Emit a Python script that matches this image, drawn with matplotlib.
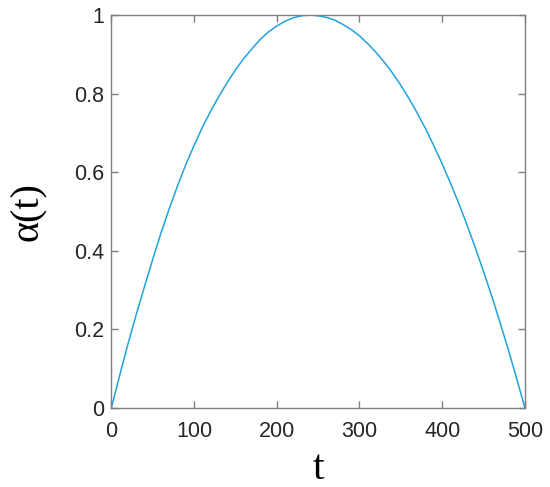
import matplotlib
matplotlib.use("Agg")
import matplotlib.pyplot as plt

# values
t_vals = [0, 10, 20, 30, 40, 50, 60, 70, 80, 90, 100, 110, 120, 130, 140,
          150, 160, 170, 180, 190, 200, 210, 220, 230, 240, 250, 260, 270,
          280, 290, 300, 310, 320, 330, 340, 350, 360, 370, 380, 390, 400,
          410, 420, 430, 440, 450, 460, 470, 480, 490, 500]
alpha_vals = [0.0, 0.082, 0.162, 0.237, 0.308, 0.378, 0.445, 0.507, 0.565,
              0.619, 0.668, 0.714, 0.755, 0.793, 0.828, 0.860, 0.889, 0.914,
              0.938, 0.957, 0.972, 0.984, 0.993, 0.998, 1.0, 0.998, 0.994,
              0.987, 0.976, 0.963, 0.947, 0.927, 0.905, 0.880, 0.852, 0.821,
              0.787, 0.750, 0.710, 0.667, 0.621, 0.572, 0.521, 0.466, 0.408,
              0.347, 0.284, 0.217, 0.148, 0.075, 0.0]
x_ticks = [0, 100, 200, 300, 400, 500]
y_ticks = [0, 0.2, 0.4, 0.6, 0.8, 1]
y_ticklabels = ["0", "0.2", "0.4", "0.6", "0.8", "1"]

plt.rcParams["font.family"] = ["Liberation Sans", "DejaVu Sans"]

fig = plt.figure(figsize=(5.5, 4.87), dpi=100)
ax = fig.add_axes([0.2024, 0.1622, 0.752, 0.807])
ax.plot(t_vals, alpha_vals, color="#1fa3dc", linewidth=1.1)

ax.set_xlim(0, 500)
ax.set_ylim(0, 1)
ax.set_xticks(x_ticks)
ax.set_yticks(y_ticks)
ax.set_yticklabels(y_ticklabels)
ax.tick_params(direction="in", top=True, right=True, length=5, width=1,
               color="#7f7f7f", labelsize=15.5, labelcolor="#262626", pad=5)
ax.tick_params(axis="x", pad=9)
for s in ax.spines.values():
    s.set_color("#7f7f7f")
    s.set_linewidth(1.0)

ax.set_xlabel("t", family=["Liberation Serif", "DejaVu Serif"], fontsize=30,
              labelpad=6)
ax.set_ylabel("α(t)", family=["Liberation Serif", "DejaVu Serif"], fontsize=29,
              labelpad=20)

fig.savefig("out.png", dpi=100, facecolor="white")
